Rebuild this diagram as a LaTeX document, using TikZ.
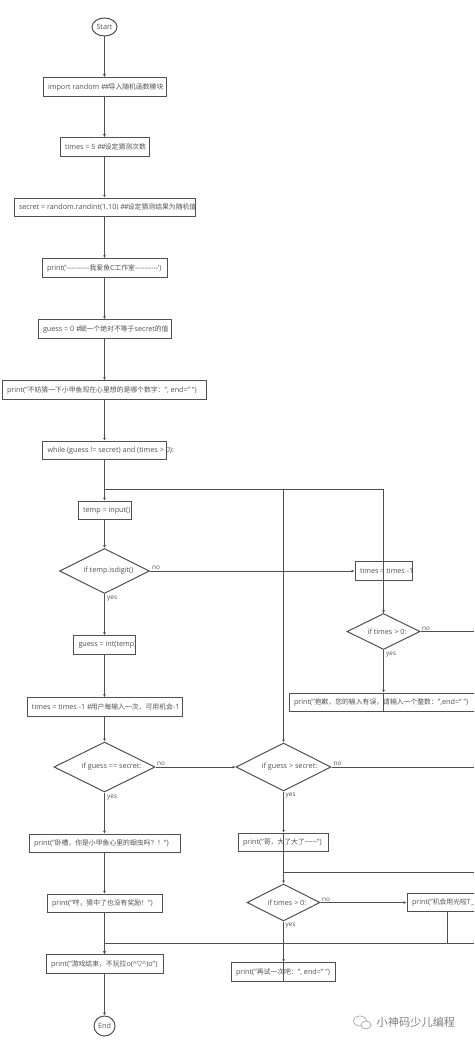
\documentclass[tikz,border=0pt]{standalone}
\usepackage{fontspec}
\setmainfont{Open Sans}
\newfontfamily\cjk[Scale=0.95]{Noto Sans CJK SC}
\newfontfamily\djv{DejaVu Sans}
\usetikzlibrary{shapes.geometric,arrows.meta}
\definecolor{ln}{HTML}{505050}
\definecolor{tx}{HTML}{505050}
\tikzset{
  x=1pt,y=-1pt,
  every node/.style={font=\fontsize{7.2}{8}\selectfont,text=tx,inner sep=0pt},
  bx/.style={draw=ln,line width=1pt,minimum height=18.5pt,anchor=center},
  dm/.style={draw=ln,line width=1pt,diamond,aspect=2},
  tm/.style={draw=ln,line width=1pt,ellipse},
  lk/.style={draw=ln,line width=1pt,-{Latex[length=3pt,width=3pt]}},
  pl/.style={draw=ln,line width=1pt},
  lb/.style={font=\fontsize{6.4}{8}\selectfont}
}
\newcommand{\C}[1]{{\cjk #1}}
\newcommand{\LT}[2]{\makebox[#1][l]{\hspace{5pt}#2}}
\newcommand{\Dsh}{-{}-{}-{}-{}-{}-{}-{}-{}-{}-{}}
\newcommand{\Hs}{\#\kern-0.9pt}
\begin{document}
\begin{tikzpicture}
\path[use as bounding box] (0,0) rectangle (474,1043);
\clip (0,0) rectangle (474,1043);
\node[tm,minimum width=25pt,minimum height=18pt] (start) at (104.5,27) {Start};
\node[bx] (imp) at (104.5,87) {\LT{123pt}{import random \Hs\Hs\C{导入随机函数模块}}};
\node[bx] (tms) at (104.5,147) {\LT{89pt}{times = 5 \Hs\Hs\C{设定猜测次数}}};
\node[bx] (sec) at (104.5,207.5) {\LT{181pt}{secret = random.randint(1,10) \Hs\Hs\C{设定猜测结果为随机值}}};
\node[bx] (pr1) at (104.5,268) {\LT{125pt}{print('\Dsh\C{我爱鱼C工作室}\Dsh')}};
\node[bx] (gs0) at (104.5,329) {\LT{133pt}{guess = 0 \Hs\C{赋一个绝对不等于}secret\C{的值}}};
\node[bx] (pr2) at (104,390) {\LT{204pt}{print("\C{不妨猜一下小甲鱼现在心里想的是哪个数字：}", end=" ")}};
\node[bx] (whl) at (104.5,450.5) {\LT{124pt}{while (guess != secret) and (times > 0):}};
\node[bx] (tmp) at (104.5,510.5) {\LT{53pt}{temp = input()}};
\node[dm,minimum width=90pt,minimum height=45pt] (dig) at (104.5,571) {\hspace{8pt}if temp.isdigit()};
\node[bx] (gsi) at (104.5,645) {\LT{62pt}{guess = int(temp)}};
\node[bx] (tm1) at (104.5,707) {\LT{155pt}{times = times -1 \Hs\C{用户每输入一次，可用机会}-1}};
\node[dm,minimum width=101pt,minimum height=50pt] (eq) at (104.5,767) {\hspace{14pt}if guess == secret:};
\node[bx] (pw1) at (104.5,843.5) {\LT{151pt}{print("\C{卧槽，你是小甲鱼心里的蛔虫吗？！}")}};
\node[bx] (pw2) at (104.5,903.5) {\LT{115pt}{print("\C{哼，猜中了也没有奖励！}")}};
\node[bx] (ovr) at (104.5,964) {\LT{117pt}{print("\C{游戏结束，不玩拉}o(\textasciicircum{\djv ▽}\textasciicircum)o")}};
\node[tm,minimum width=21pt,minimum height=20pt] (end) at (104.5,1026) {End};
\node[bx] (tm2) at (383.5,571) {\LT{57pt}{times = times -1}};
\node[dm,minimum width=73pt,minimum height=36pt] (tp1) at (383.5,631.5) {\hspace{7pt}if times > 0:};
\node[bx] (err) at (384,702.5) {\LT{190pt}{print("\C{抱歉，您的输入有误，请输入一个整数：}",end=" ")}};
\node[dm,minimum width=95pt,minimum height=48pt] (gt) at (283.5,767) {\hspace{12pt}if guess > secret:};
\node[bx] (big) at (283,842.5) {\LT{90pt}{print("\C{哥，大了大了}\textasciitilde\textasciitilde\textasciitilde")}};
\node[dm,minimum width=73pt,minimum height=37pt] (tp2) at (283.5,902.5) {\hspace{7pt}if times > 0:};
\node[bx] (agn) at (283,972) {\LT{104pt}{print("\C{再试一次吧：}", end=" ")}};
\node[bx,anchor=west] (out) at (406.5,902.5) {\LT{110pt}{print("\C{机会用光啦}T\_}};
\coordinate (lp1) at (104.5,489);
\coordinate (lp1r) at (283.5,489);
\coordinate (lp1e) at (383.5,489);
\coordinate (lp2) at (104.5,943);
\coordinate (lp2o) at (447.5,943);
\coordinate (lp2e) at (474,943);
\coordinate (lp3) at (283.5,872);
\coordinate (lp3e) at (474,872);
\coordinate (e1) at (474,631.5);
\coordinate (e2) at (474,767);
\path[lk] (start) -- (imp);
\path[lk] (imp) -- (tms);
\path[lk] (tms) -- (sec);
\path[lk] (sec) -- (pr1);
\path[lk] (pr1) -- (gs0);
\path[lk] (gs0) -- (pr2.north -| gs0);
\path[lk] (pr2.south -| gs0) -- (whl);
\path[lk] (whl) -- (tmp);
\path[lk] (tmp) -- (dig);
\path[lk] (dig) -- (gsi);
\path[lk] (gsi) -- (tm1);
\path[lk] (tm1) -- (eq);
\path[lk] (eq) -- (pw1);
\path[lk] (pw1) -- (pw2);
\path[lk] (pw2) -- (ovr);
\path[lk] (ovr) -- (end);
\path[pl] (lp1) -- (lp1e) -- (tp1.north);
\path[lk] (tm2.south -| tp1) -- (tp1.north);
\path[lk] (lp1r) -- (gt.north);
\path[lk] (dig.east) -- (tm2.west);
\path[lk] (eq.east) -- (gt.west);
\path[lk] (tp1.south) -- (err.north -| tp1);
\path[pl] (err.north -| tp1) -- (err.south -| tp1);
\path[pl] (tp1.east) -- (e1);
\path[pl] (gt.east) -- (e2);
\path[lk] (gt.south) -- (big.north -| gt);
\path[lk] (big.north -| gt) -- (tp2.north);
\path[pl] (lp3) -- (lp3e);
\path[lk] (tp2.east) -- (out.west);
\path[lk] (tp2.south) -- (agn.north -| tp2);
\path[pl] (agn.north -| tp2) -- (agn.south -| tp2);
\path[pl] (lp2) -- (lp2e);
\path[pl] (out.south -| lp2o) -- (lp2o);
\path[lk] (lp2) -- (ovr.north);
\node[lb,anchor=south west] (n1) at (152,570) {no};
\node[lb,anchor=west] (y1) at (107,599) {yes};
\node[lb,anchor=south west] (n2) at (422,631) {no};
\node[lb,anchor=west] (y2) at (386,655) {yes};
\node[lb,anchor=south west] (n3) at (157,766) {no};
\node[lb,anchor=west] (y3) at (107,798) {yes};
\node[lb,anchor=south west] (n4) at (333.5,766) {no};
\node[lb,anchor=west] (y4) at (285.5,796) {yes};
\node[lb,anchor=south west] (n5) at (322,901.5) {no};
\node[lb,anchor=west] (y5) at (285.5,926) {yes};
\node[font=\fontsize{11.8}{13}\selectfont\cjk,text=black!50,anchor=west] (wm) at (376.5,1022.5) {小神码少儿编程};
\draw[black!35,line width=0.7pt] (360,1021) ellipse [x radius=6.5pt,y radius=5pt];
\draw[black!35,line width=0.7pt,fill=white] (366,1025) ellipse [x radius=5pt,y radius=4pt];
\end{tikzpicture}
\end{document}
